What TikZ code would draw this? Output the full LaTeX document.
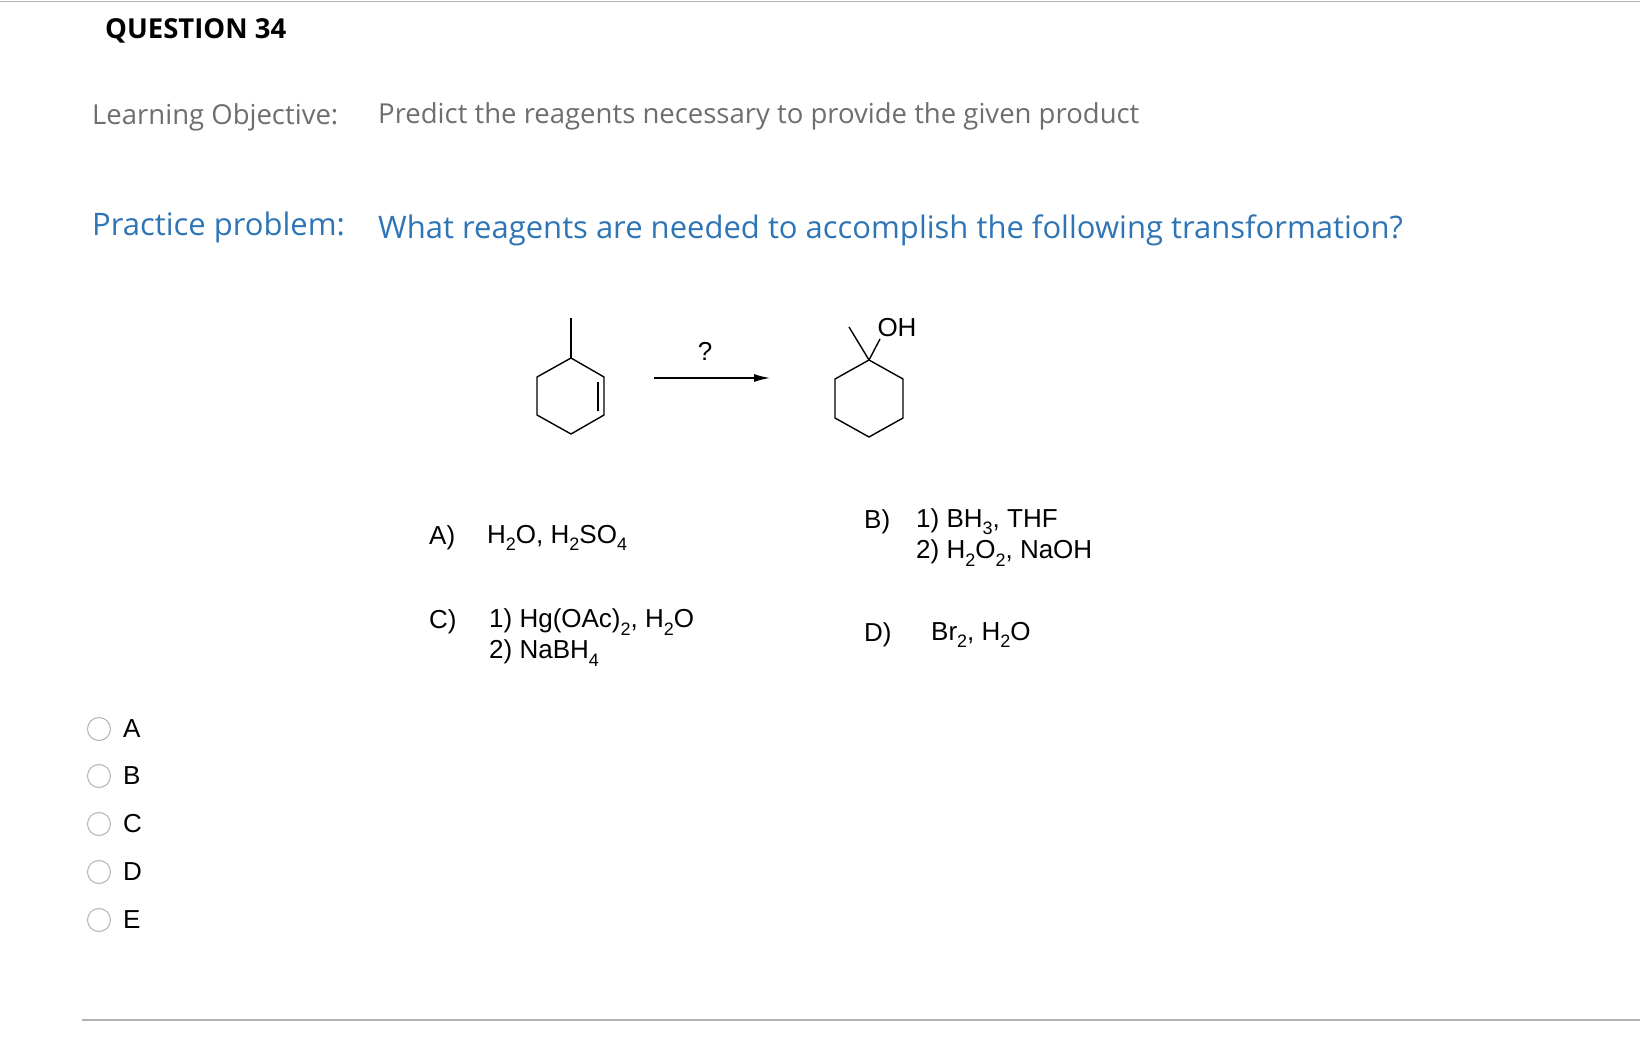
\documentclass[tikz,border=0pt]{standalone}
\usepackage{fontspec}
\usetikzlibrary{arrows.meta}
\setmainfont{Open Sans}
\newfontfamily\arial{Liberation Sans}
\definecolor{grayt}{RGB}{110,110,110}
\definecolor{bluet}{RGB}{46,117,182}
\newcommand{\sbs}[1]{\raisebox{-0.28em}{\fontsize{18}{20}\selectfont #1}}
\begin{document}
\begin{tikzpicture}[x=1pt,y=-1pt,
  chem/.style={font=\arial\fontsize{26}{29}\selectfont,inner sep=0pt},
  bnd/.style={line width=1.4pt,line join=round},
  radio/.style={circle,draw=gray!60,line width=1pt,minimum size=23pt,inner sep=0pt,fill=white}]
\useasboundingbox (0,0) rectangle (1640,1052);
\draw[gray!60,line width=1.5pt] (0,1.5) -- (1640,1.5);
\draw[gray!60,line width=1.5pt] (82,1020) -- (1640,1020);
\node[anchor=west,inner sep=0pt,font=\fontsize{27.5}{30}\selectfont\bfseries] (q) at (105,31) {QUESTION 34};
\node[anchor=west,inner sep=0pt,text=grayt,font=\fontsize{27.5}{30}\selectfont] (lo) at (92,117) {Learning Objective:};
\node[anchor=west,inner sep=0pt,text=grayt,font=\fontsize{27.5}{30}\selectfont] (lot) at (378,116) {Predict the reagents necessary to provide the given product};
\node[anchor=west,inner sep=0pt,text=bluet,font=\fontsize{31}{34}\selectfont] (pp) at (92,227) {Practice problem:};
\node[anchor=west,inner sep=0pt,text=bluet,font=\fontsize{31}{34}\selectfont] (pq) at (378,230) {What reagents are needed to accomplish the following transformation?};
% reactant
\coordinate (c1) at (571,358); \coordinate (c2) at (604,377); \coordinate (c3) at (604,415);
\coordinate (c4) at (571,434); \coordinate (c5) at (537,415); \coordinate (c6) at (537,377);
\draw[bnd] (c1)--(c2)--(c3)--(c4)--(c5)--(c6)--cycle;
\draw[bnd] (c1)--(571,318);
\draw[bnd] (598,382)--(598,411);
% arrow
\coordinate (a1) at (654,378); \coordinate (a2) at (770,378);
\draw[line width=1.4pt,-{Latex[length=16pt,width=8pt]}] (a1)--(a2);
\node[chem] (qm) at (705,351) {?};
% product
\coordinate (d1) at (869,360); \coordinate (d2) at (903,379); \coordinate (d3) at (903,418);
\coordinate (d4) at (869,437); \coordinate (d5) at (835,418); \coordinate (d6) at (835,379);
\draw[bnd] (d1)--(d2)--(d3)--(d4)--(d5)--(d6)--cycle;
\draw[bnd] (d1)--(849,327);
\draw[bnd] (d1)--(880,339);
\node[chem] (oh) at (897,328) {OH};
% options
\node[chem,anchor=west] (A) at (429,538) {A)};
\node[chem,anchor=west] (At) at (487,538) {H\sbs{2}O, H\sbs{2}SO\sbs{4}};
\node[chem,anchor=west] (B) at (864,522) {B)};
\node[chem,anchor=west] (B1) at (916,522) {1) BH\sbs{3}, THF};
\node[chem,anchor=west] (B2) at (916,553) {2) H\sbs{2}O\sbs{2}, NaOH};
\node[chem,anchor=west] (C) at (429,622) {C)};
\node[chem,anchor=west] (C1) at (489,622) {1) Hg(OAc)\sbs{2}, H\sbs{2}O};
\node[chem,anchor=west] (C2) at (489,653) {2) NaBH\sbs{4}};
\node[chem,anchor=west] (D) at (864,635) {D)};
\node[chem,anchor=west] (Dt) at (931,635) {Br\sbs{2}, H\sbs{2}O};
% radios
\foreach \l/\yy in {A/729,B/776,C/824,D/872,E/920}{
  \node[radio] (r\l) at (99,\yy) {};
  \node[chem,anchor=west] (l\l) at (123,\yy) {\l};
}
\end{tikzpicture}
\end{document}
